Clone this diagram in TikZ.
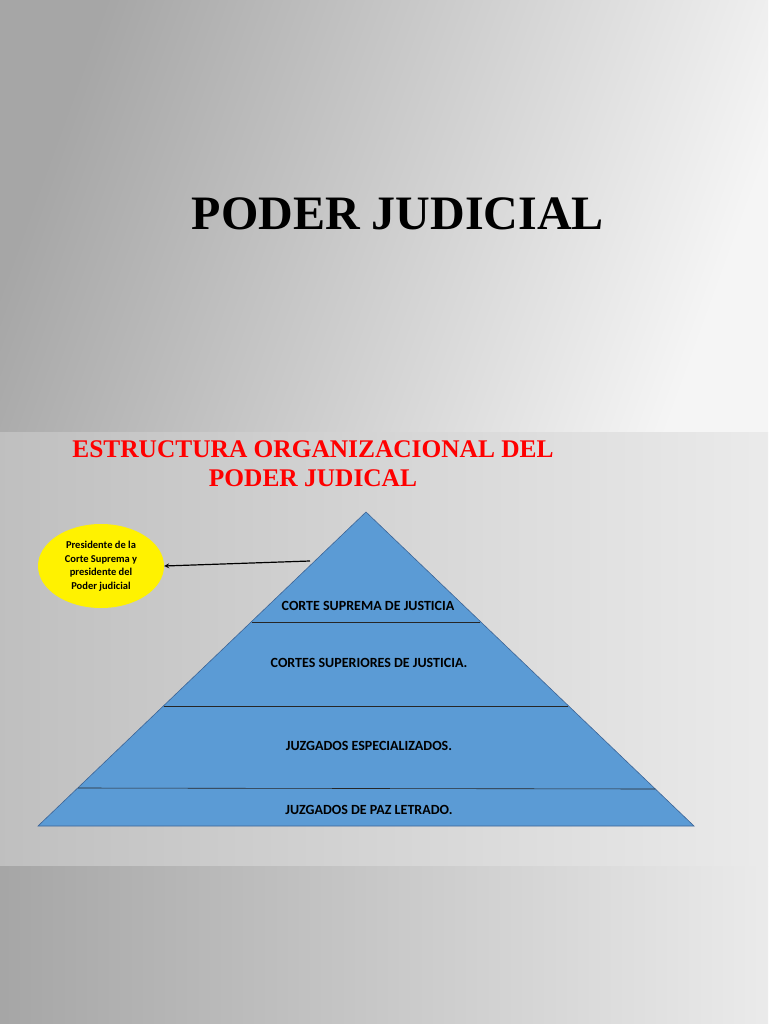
\documentclass[tikz,border=0pt]{standalone}
\usepackage{fontspec}
\setmainfont{Liberation Serif}
\newfontfamily\carlitofont{Carlito}
\usetikzlibrary{shapes.geometric}
\begin{document}
\begin{tikzpicture}[x=1pt,y=-1pt,
  lvl/.style={font=\carlitofont\bfseries\fontsize{14}{16}\selectfont,text=black},
  sep/.style={draw=black!85,line width=0.6pt}]
\useasboundingbox (0,0) rectangle (768,1024);
\shade[left color=black!35,right color=black!4,shading angle=70] (0,0) rectangle (768,432);
\shade[left color=black!25,right color=black!8] (0,432) rectangle (768,866);
\shade[left color=black!35,right color=black!8] (0,866) rectangle (768,1024);
\node (title) at (398,214) {\bfseries\fontsize{48}{50}\selectfont PODER JUDICIAL};
\node[text=red,align=center,font=\bfseries\fontsize{25.4}{29}\selectfont] (sub) at (313,464) {ESTRUCTURA ORGANIZACIONAL DEL\\PODER JUDICAL};
\draw[fill={rgb,255:red,91;green,155;blue,213},draw={rgb,255:red,60;green,100;blue,150},line width=0.6pt] (366,512) -- (694,826) -- (38,826) -- cycle;
\draw[sep] (252,622) -- (480,622);
\draw[sep] (164,706) -- (568,706);
\draw[sep] (78,788) -- (655,789);
\node[lvl] (l1) at (368,606) {CORTE SUPREMA DE JUSTICIA};
\node[lvl] (l2) at (369,663) {CORTES SUPERIORES DE JUSTICIA.};
\node[lvl] (l3) at (369,746) {JUZGADOS ESPECIALIZADOS.};
\node[lvl] (l4) at (369,810) {JUZGADOS DE PAZ LETRADO.};
\node[ellipse,fill=yellow,minimum width=126,minimum height=84,inner sep=0,align=center,font=\carlitofont\bfseries\fontsize{10.5}{13.5}\selectfont] (pres) at (101,566) {Presidente de la\\Corte Suprema y\\presidente del\\Poder judicial};
\coordinate (src) at (310,561);
\draw[-stealth,line width=1.2pt] (src) -- (pres.east);
\end{tikzpicture}
\end{document}
